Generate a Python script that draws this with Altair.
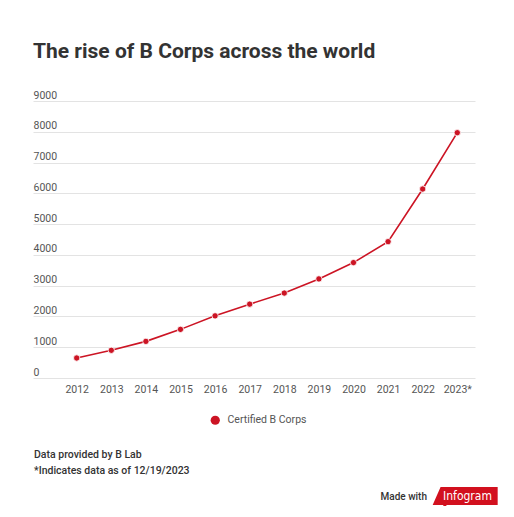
import altair as alt
import pandas as pd

years = ["2012", "2013", "2014", "2015", "2016", "2017", "2018", "2019", "2020", "2021", "2022", "2023*"]
b_corps = [650, 900, 1190, 1580, 2020, 2400, 2760, 3220, 3750, 4430, 6140, 7970]
series_name = "Certified B Corps"
title_text = "The rise of B Corps across the world"
notes = ["Data provided by B Lab", "*Indicates data as of 12/19/2023"]
made_with = "Made with"
brand = "Infogram"

RED = "#cc1424"
FONT = "Roboto"

df = pd.DataFrame({"idx": list(range(len(years))), "year": years, "value": b_corps,
                   "series": [series_name] * len(years)})

label_expr = "[" + ",".join("'%s'" % y for y in years) + "][datum.value]"

x_enc = alt.X("idx:Q", title=None,
              scale=alt.Scale(domain=[-1.263, 11.512], nice=False, zero=False),
              axis=alt.Axis(values=list(range(len(years))), labelExpr=label_expr,
                            labelAngle=0, ticks=False, domain=False, grid=False,
                            labelPadding=6, labelFontSize=10.5, labelColor="#555555",
                            labelFont=FONT, labelFlush=False, labelOverlap=False))
y_enc = alt.Y("value:Q", title=None,
              scale=alt.Scale(domain=[0, 9000], nice=False),
              axis=alt.Axis(values=list(range(0, 9001, 1000)), format="d", ticks=False, tickSize=0,
                            domain=False, labelAlign="left", labelBaseline="alphabetic",
                            labelPadding=0, labelOffset=-3, labelFontSize=10.5,
                            labelColor="#555555", labelFont=FONT, gridColor="#e3e3e3",
                            gridWidth=1))
color_enc = alt.Color("series:N", title=None,
                      scale=alt.Scale(domain=[series_name], range=[RED]),
                      legend=alt.Legend(orient="none", legendX=177, legendY=314,
                                        symbolType="circle", symbolSize=85,
                                        labelFontSize=10.5, labelColor="#555555",
                                        labelFont=FONT, symbolStrokeWidth=0, labelOffset=7))

base = alt.Chart(df)
line = base.mark_line(strokeWidth=1.6, color=RED).encode(x=x_enc, y=y_enc)
pts = base.mark_point(filled=True, size=40, opacity=1, stroke="white", strokeWidth=0.8).encode(
    x=x_enc, y=y_enc, color=color_enc)

note1 = alt.Chart(pd.DataFrame({"t": [notes[0]]})).mark_text(
    align="left", baseline="middle", font=FONT, fontSize=10.5, fontWeight=500, color="#333333"
).encode(text="t:N", x=alt.value(1), y=alt.value(354))
note2 = alt.Chart(pd.DataFrame({"t": [notes[1]]})).mark_text(
    align="left", baseline="middle", font=FONT, fontSize=10.5, fontWeight=500, color="#333333"
).encode(text="t:N", x=alt.value(1), y=alt.value(370))
made = alt.Chart(pd.DataFrame({"t": [made_with]})).mark_text(
    align="right", baseline="middle", font=FONT, fontSize=10, fontWeight=500, color="#333333"
).encode(text="t:N", x=alt.value(394), y=alt.value(396))
logo_path = "M -0.74 -0.27 L 0.99 -0.27 L 0.99 0.27 L -0.55 0.27 L -0.64 0.38 L -0.66 0.27 L -0.98 0.27 Z"
logo = alt.Chart(pd.DataFrame({"t": [brand]})).mark_point(
    shape=logo_path, size=4356, filled=True, color="#d2101e", opacity=1, strokeWidth=0
).encode(x=alt.value(432), y=alt.value(395))
logo_txt = alt.Chart(pd.DataFrame({"t": [brand]})).mark_text(
    align="center", baseline="middle", font="Liberation Sans Narrow, DejaVu Sans Condensed, Roboto",
    fontSize=12, fontWeight=400, color="white"
).encode(text="t:N", x=alt.value(434.5), y=alt.value(394.5))

chart = alt.layer(line, pts, note1, note2, made, logo, logo_txt).properties(
    width=442, height=277,
    background="white",
    title=alt.Title(title_text, anchor="start", font=FONT, fontSize=21, fontWeight="bold",
                    color="#333333", baseline="alphabetic", offset=11),
    autosize=alt.AutoSizeParams(type="none"),
    padding={"left": 25, "top": 93, "right": 31, "bottom": 128},
).configure_view(stroke=None)

chart.save("out.html", embed_options={"renderer": "svg", "actions": False})
